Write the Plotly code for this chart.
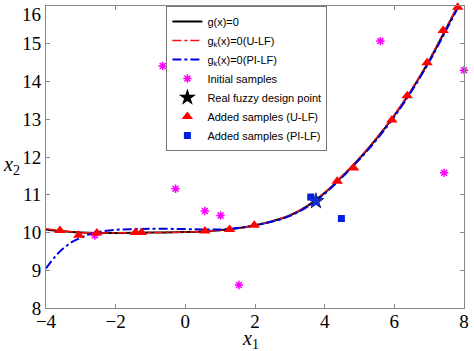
import plotly.graph_objects as go

# Limit-state curves
curve_x = [-4, -3.5, -3, -2.5, -2, -1, 0, 0.5, 1, 1.5, 2, 2.5, 3, 3.5, 4, 4.5, 5, 5.5, 6, 6.5, 7, 7.5, 8]
g_true = [10.08, 10.03, 10.0, 9.99, 9.99, 10.0, 10.01, 10.03, 10.06, 10.11, 10.19, 10.3, 10.45, 10.7, 11.05, 11.48, 11.96, 12.5, 13.1, 13.78, 14.55, 15.42, 16.3]
g_ulf = [10.1, 10.04, 10.0, 9.99, 9.99, 10.0, 10.01, 10.03, 10.06, 10.11, 10.19, 10.3, 10.46, 10.71, 11.06, 11.5, 11.98, 12.52, 13.12, 13.8, 14.58, 15.45, 16.33]
pi_x = [-4, -3.75, -3.5, -3.25, -3, -2.75, -2.5, -2, -1.5, -1, 0, 0.5, 1, 1.5, 2, 2.5, 3, 3.5, 4, 4.5, 5, 5.5, 6, 6.5, 7, 7.5, 8]
g_pilf = [9.05, 9.35, 9.58, 9.75, 9.86, 9.95, 10.01, 10.07, 10.09, 10.1, 10.09, 10.08, 10.08, 10.12, 10.19, 10.29, 10.44, 10.68, 11.03, 11.46, 11.94, 12.47, 13.07, 13.75, 14.52, 15.38, 16.26]

# Samples
init_x = [-0.65, 3.9, 5.6, 8.0, 7.43, -0.28, 0.56, 1.01, 1.54, -2.6]
init_y = [14.41, 14.46, 15.07, 14.3, 11.58, 11.16, 10.57, 10.45, 8.61, 9.92]
ulf_x = [-3.6, -3.06, -2.54, -1.43, -1.26, 0.56, 1.27, 1.98, 4.36, 4.83, 5.93, 6.37, 6.94, 7.4, 7.82]
ulf_y = [10.05, 9.93, 9.99, 10.0, 10.0, 10.04, 10.08, 10.19, 11.36, 11.71, 12.98, 13.62, 14.5, 15.35, 15.97]
pilf_x = [3.6, 4.48]
pilf_y = [10.94, 10.37]
design_x = [3.75]
design_y = [10.83]

x_ticks = [-4, -2, 0, 2, 4, 6, 8]
y_ticks = [8, 9, 10, 11, 12, 13, 14, 15, 16]
y_ticktext = ["8", "9", "10", "11", "12", "13", "14", "15", ""]

fig = go.Figure()
fig.add_trace(go.Scatter(x=curve_x, y=g_true, mode="lines", name="g(x)=0",
                         line=dict(color="black", width=2), line_shape="spline"))
fig.add_trace(go.Scatter(x=curve_x, y=g_ulf, mode="lines", name="g<sub>k</sub>(x)=0(U-LF)",
                         line=dict(color="#ff1010", width=1.5, dash="dashdot"), line_shape="spline"))
fig.add_trace(go.Scatter(x=pi_x, y=g_pilf, mode="lines", name="g<sub>k</sub>(x)=0(PI-LF)",
                         line=dict(color="#0000e0", width=2, dash="dashdot"), line_shape="spline"))
fig.add_trace(go.Scatter(x=init_x, y=init_y, mode="markers", name="Initial samples", cliponaxis=False,
                         marker=dict(symbol="asterisk-open", size=7, color="#ff00ff",
                                     line=dict(color="#ff00ff", width=1.5))))
fig.add_trace(go.Scatter(x=design_x, y=design_y, mode="markers", name="Real fuzzy design point",
                         marker=dict(symbol="star", size=13, color="black")))
fig.add_trace(go.Scatter(x=ulf_x, y=ulf_y, mode="markers", name="Added samples (U-LF)", cliponaxis=False,
                         marker=dict(symbol="triangle-up", size=10, color="#ff0000")))
fig.add_trace(go.Scatter(x=pilf_x, y=pilf_y, mode="markers", name="Added samples (PI-LF)",
                         marker=dict(symbol="square", size=7, color="#0020e0")))
fig.add_trace(go.Scatter(x=design_x, y=design_y, mode="markers", showlegend=False,
                         marker=dict(symbol="star", size=12, color="#1030d0")))

axis_common = dict(showgrid=False, zeroline=False, showline=True, linecolor="#888888", linewidth=1,
                   mirror="ticks", ticks="inside", ticklen=4, tickcolor="#888888",
                   tickfont=dict(family="Liberation Serif", size=19, color="black"))
fig.update_xaxes(range=[-4, 8], tickvals=x_ticks, ticklabelstandoff=-4, **axis_common)
fig.update_yaxes(range=[8, 16], tickvals=y_ticks, ticktext=y_ticktext, **axis_common)

H = 351 - 5 - 43
fig.update_layout(
    width=474, height=351, margin=dict(l=46, r=5, t=5, b=43),
    paper_bgcolor="white", plot_bgcolor="white",
    legend=dict(x=0.288, y=1, xanchor="left", yanchor="top", bgcolor="white",
                bordercolor="#777777", borderwidth=1, tracegroupgap=0,
                font=dict(family="Liberation Sans", size=11, color="black")),
    annotations=[
        dict(text="<i>x</i><sub>1</sub>", x=(253 - 46) / 423, y=-(340 - 308) / H, xref="paper", yref="paper",
             xanchor="center", yanchor="middle", showarrow=False,
             font=dict(family="Liberation Serif", size=20, color="black")),
        dict(text="<i>x</i><sub>2</sub>", x=-46 / 423, y=(308 - 165) / H, xref="paper", yref="paper",
             xanchor="left", yanchor="middle", showarrow=False,
             font=dict(family="Liberation Serif", size=20, color="black")),
        dict(text="16", x=0, y=16, xref="paper", yref="y", xanchor="right", yanchor="middle",
             xshift=-3, yshift=-8, showarrow=False,
             font=dict(family="Liberation Serif", size=19, color="black")),
    ],
)
fig.write_html("out.html")
